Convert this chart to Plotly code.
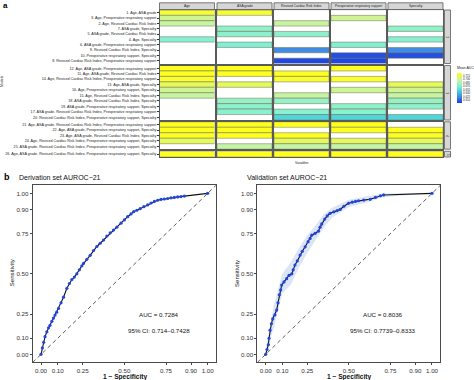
import plotly.graph_objects as go

W, H = 474, 380
FONT = "Liberation Sans, Arial, sans-serif"

# ---------------- data ----------------
variables = ["Age", "ASA grade", "Revised Cardiac Risk Index",
             "Preoperative respiratory support", "Specialty"]
group_labels = ["2", "3", "4", "5"]

models_2 = ["1. Age, ASA grade",
            "3. Age, Preoperative respiratory support",
            "2. Age, Revised Cardiac Risk Index",
            "7. ASA grade, Specialty",
            "5. ASA grade, Revised Cardiac Risk Index",
            "4. Age, Specialty",
            "6. ASA grade, Preoperative respiratory support",
            "9. Revised Cardiac Risk Index, Specialty",
            "10. Preoperative respiratory support, Specialty",
            "8. Revised Cardiac Risk Index, Preoperative respiratory support"]
auc_2 = [0.724, 0.703, 0.700, 0.678, 0.676, 0.674, 0.672, 0.628, 0.606, 0.603]

models_3 = ["12. Age, ASA grade, Preoperative respiratory support",
            "11. Age, ASA grade, Revised Cardiac Risk Index",
            "14. Age, Revised Cardiac Risk Index, Preoperative respiratory support",
            "13. Age, ASA grade, Specialty",
            "16. Age, Preoperative respiratory support, Specialty",
            "15. Age, Revised Cardiac Risk Index, Specialty",
            "18. ASA grade, Revised Cardiac Risk Index, Specialty",
            "19. ASA grade, Preoperative respiratory support, Specialty",
            "17. ASA grade, Revised Cardiac Risk Index, Preoperative respiratory support",
            "20. Revised Cardiac Risk Index, Preoperative respiratory support, Specialty"]
auc_3 = [0.730, 0.729, 0.727, 0.716, 0.703, 0.699, 0.680, 0.677, 0.675, 0.655]

models_4 = ["21. Age, ASA grade, Revised Cardiac Risk Index, Preoperative respiratory support",
            "22. Age, ASA grade, Preoperative respiratory support, Specialty",
            "23. Age, ASA grade, Revised Cardiac Risk Index, Specialty",
            "24. Age, Revised Cardiac Risk Index, Preoperative respiratory support, Specialty",
            "25. ASA grade, Revised Cardiac Risk Index, Preoperative respiratory support, Specialty"]
auc_4 = [0.731, 0.730, 0.729, 0.716, 0.698]

models_5 = ["26. Age, ASA grade, Revised Cardiac Risk Index, Preoperative respiratory support, Specialty"]
auc_5 = [0.732]

legend_ticks = [0.61, 0.625, 0.64, 0.655, 0.67, 0.685, 0.70, 0.715]

roc_ticks = [0, 0.1, 0.25, 0.5, 0.75, 0.9, 1.0]
roc_tick_text = ["0.00", "0.10", "0.25", "0.50", "0.75", "0.90", "1.00"]

der_fpr = [0, 0.008, 0.016, 0.024, 0.035, 0.045, 0.054, 0.065, 0.075, 0.084, 0.094,
           0.105, 0.12, 0.135, 0.155, 0.17, 0.185, 0.2, 0.215, 0.23, 0.245, 0.255,
           0.275, 0.295, 0.315, 0.335, 0.355, 0.375, 0.395, 0.415, 0.435, 0.455,
           0.48, 0.5, 0.52, 0.54, 0.556, 0.575, 0.595, 0.617, 0.64, 0.66, 0.68, 0.7,
           0.72, 0.74, 0.76, 0.78, 0.8, 0.82, 0.84, 0.86, 1.0]
der_tpr = [0, 0.04, 0.075, 0.11, 0.14, 0.165, 0.18, 0.205, 0.225, 0.244, 0.262,
           0.285, 0.32, 0.355, 0.41, 0.44, 0.465, 0.48, 0.50, 0.525, 0.55, 0.565,
           0.59, 0.615, 0.645, 0.67, 0.69, 0.71, 0.735, 0.755, 0.772, 0.79,
           0.815, 0.835, 0.855, 0.872, 0.886, 0.895, 0.905, 0.917, 0.928, 0.94, 0.95, 0.957,
           0.962, 0.965, 0.968, 0.972, 0.975, 0.978, 0.98, 0.983, 1.0]

val_fpr = [0, 0.008, 0.016, 0.02, 0.026, 0.034, 0.042, 0.055, 0.066, 0.074, 0.082,
           0.09, 0.096, 0.11, 0.126, 0.14, 0.157, 0.165, 0.176, 0.19, 0.207, 0.22,
           0.237, 0.255, 0.267, 0.277, 0.297, 0.317, 0.327, 0.337, 0.355, 0.37, 0.387,
           0.41, 0.43, 0.448, 0.47, 0.498, 0.52, 0.54, 0.558, 0.59, 0.628, 0.66, 0.69,
           0.709, 1.0]
val_tpr = [0, 0.03, 0.06, 0.1, 0.15, 0.19, 0.22, 0.245, 0.275, 0.32, 0.37,
           0.4, 0.43, 0.45, 0.47, 0.49, 0.50, 0.525, 0.555, 0.58, 0.617, 0.64,
           0.668, 0.70, 0.72, 0.74, 0.752, 0.765, 0.79, 0.81, 0.84, 0.86, 0.876,
           0.885, 0.893, 0.90, 0.92, 0.938, 0.945, 0.95, 0.954, 0.958, 0.963, 0.975, 0.985,
           0.99, 1.0]
val_band_fpr = [0, 0.05, 0.1, 0.15, 0.2, 0.25, 0.3, 0.35, 0.4, 0.5, 0.6, 0.7, 0.8, 1.0]
val_band_hi = [0.03, 0.31, 0.50, 0.57, 0.66, 0.74, 0.80, 0.87, 0.91, 0.96, 0.98, 0.997, 1.0, 1.0]
val_band_lo = [0, 0.17, 0.38, 0.43, 0.54, 0.63, 0.71, 0.79, 0.85, 0.915, 0.94, 0.975, 0.985, 1.0]

diag = [-0.05, 1.05]

der_title = "Derivation set AUROC\u221221"
val_title = "Validation set AUROC\u221221"
der_auc_text = ["AUC = 0.7284", "95% CI: 0.714\u20130.7428"]
val_auc_text = ["AUC = 0.8036", "95% CI: 0.7739\u20130.8333"]

# ---------------- geometry (pixels) ----------------
def px(x):
    return x / W

def py(y):
    return 1 - y / H

col_px = [(159.5, 214.5), (217, 272), (274, 329), (331, 386), (388, 443)]
grp_px = [(10, 63.5), (65.5, 120), (121.8, 149.2), (151.3, 157)]
header_px = (2.8, 9.6)
strip_px = (444.5, 450.5)
roc_x_px = [(32.7, 216.0), (257.4, 440.3)]
roc_y_px = (185.3, 362.4)

colorscale = [[0.0, "#1b3fe3"], [0.2, "#3f86e6"], [0.4, "#47d0dc"],
              [0.56, "#84f0d4"], [0.76, "#c6f4a4"], [1.0, "#ffff1e"]]

groups = [(models_2, auc_2), (models_3, auc_3), (models_4, auc_4), (models_5, auc_5)]


def note(text, x, y, size, xanchor="center", yanchor="middle", angle=0,
         xref="paper", yref="paper", color="#222"):
    return dict(text=text, x=x, y=y, xref=xref, yref=yref, showarrow=False,
                xanchor=xanchor, yanchor=yanchor, textangle=angle,
                font=dict(size=size, color=color, family=FONT))


fig = go.Figure()
layout = {}
shapes = []
annotations = []

k = 0
for g, (labels, aucs) in enumerate(groups):
    n = len(labels)
    members = [lab.split(". ", 1)[1].split(", ") for lab in labels]
    for c, var in enumerate(variables):
        k += 1
        s = "" if k == 1 else str(k)
        xs = [1 if var in m else None for m in members]
        fig.add_trace(go.Bar(
            orientation="h", x=xs, y=list(range(n)), base=0, width=1,
            marker=dict(color=aucs, coloraxis="coloraxis",
                        line=dict(color="#6d6d55", width=0.5)),
            xaxis="x" + s, yaxis="y" + s, showlegend=False, hoverinfo="skip"))
        x0, x1 = col_px[c]
        y0, y1 = grp_px[g]
        layout["xaxis" + s] = dict(domain=[px(x0), px(x1)], range=[0, 1], anchor="y" + s,
                                   showticklabels=False, showgrid=False, zeroline=False,
                                   showline=True, mirror=True, linecolor="#5a5a5a",
                                   linewidth=1, ticks="", fixedrange=True)
        ya = dict(domain=[py(y1), py(y0)], range=[n - 0.5, -0.5], anchor="x" + s,
                  showgrid=False, zeroline=False, showline=True, mirror=True,
                  linecolor="#5a5a5a", linewidth=1, fixedrange=True)
        if c == 0:
            ya.update(tickmode="array", tickvals=list(range(n)), ticktext=labels,
                      ticks="outside", ticklen=1.5, tickwidth=0.5, tickcolor="#333",
                      tickfont=dict(size=3.7, color="#222", family=FONT))
        else:
            ya.update(showticklabels=False, ticks="")
        layout["yaxis" + s] = ya

# header strips
for c, var in enumerate(variables):
    x0, x1 = col_px[c]
    shapes.append(dict(type="rect", xref="paper", yref="paper",
                       x0=px(x0), x1=px(x1), y0=py(header_px[1]), y1=py(header_px[0]),
                       fillcolor="#d6d6d6", line=dict(color="#5a5a5a", width=0.8)))
    annotations.append(note(var, px((x0 + x1) / 2), py(sum(header_px) / 2), 3.3))
# right strips
for g, lab in enumerate(group_labels):
    y0, y1 = grp_px[g]
    shapes.append(dict(type="rect", xref="paper", yref="paper",
                       x0=px(strip_px[0]), x1=px(strip_px[1]), y0=py(y1), y1=py(y0),
                       fillcolor="#d6d6d6", line=dict(color="#5a5a5a", width=0.8)))
    annotations.append(note(lab, px(sum(strip_px) / 2), py((y0 + y1) / 2), 3.5, angle=90))

annotations += [
    note("<b>a</b>", px(1), py(5), 8, xanchor="left", color="#000"),
    note("Models", px(2), py(81), 3.5, angle=-90),
    note("Variables", px(301.5), py(162.7), 3.3),
    note("<b>b</b>", px(2), py(177), 9, xanchor="left", color="#000"),
]

# ---------------- ROC panels ----------------
roc_sets = [(der_fpr, der_tpr, der_title, der_auc_text, None),
            (val_fpr, val_tpr, val_title, val_auc_text,
             (val_band_fpr, val_band_lo, val_band_hi))]
for i, (fx, ty, title, auc_txt, band) in enumerate(roc_sets):
    k += 1
    s = str(k)
    xa, ya = "x" + s, "y" + s
    if band is not None:
        bx, blo, bhi = band
        fig.add_trace(go.Scatter(x=bx, y=blo, mode="lines", line=dict(width=0),
                                 xaxis=xa, yaxis=ya, showlegend=False, hoverinfo="skip"))
        fig.add_trace(go.Scatter(x=bx, y=bhi, mode="lines", line=dict(width=0),
                                 fill="tonexty", fillcolor="rgba(190,208,240,0.55)",
                                 xaxis=xa, yaxis=ya, showlegend=False, hoverinfo="skip"))
    fig.add_trace(go.Scatter(x=diag, y=diag, mode="lines",
                             line=dict(color="#333", width=0.8, dash="4px,3px"),
                             xaxis=xa, yaxis=ya, showlegend=False, hoverinfo="skip"))
    fig.add_trace(go.Scatter(x=fx, y=ty, mode="lines+markers",
                             line=dict(color="#111", width=1.1),
                             marker=dict(color="#2446d8", size=3.2, line=dict(width=0)),
                             xaxis=xa, yaxis=ya, showlegend=False))
    x0, x1 = roc_x_px[i]
    axis_common = dict(range=[-0.05, 1.05], tickmode="array", tickvals=roc_ticks,
                       ticktext=roc_tick_text, ticks="outside", ticklen=2, tickwidth=0.8,
                       tickcolor="#444", tickfont=dict(size=6.2, color="#333", family=FONT),
                       showgrid=False, zeroline=False, showline=True, mirror=True,
                       linecolor="#4a4a4a", linewidth=1, fixedrange=True)
    layout["xaxis" + s] = dict(domain=[px(x0), px(x1)], anchor=ya, **axis_common)
    layout["yaxis" + s] = dict(domain=[py(roc_y_px[1]), py(roc_y_px[0])], anchor=xa,
                               **axis_common)
    annotations.append(note(title, px(x0 - 16 if i == 0 else x0 - 12.5), py(177.5), 7,
                            xanchor="left", color="#111"))
    annotations.append(note(auc_txt[0], 0.705, 0.25, 6.2, xref=xa, yref=ya, color="#111"))
    annotations.append(note(auc_txt[1], 0.705, 0.15, 6.2, xref=xa, yref=ya, color="#111"))
    annotations.append(note("Sensitivity", px(x0 - 20.5), py(273), 6, angle=-90,
                            color="#111"))
    annotations.append(note("<b>1 \u2212 Specificity</b>", px((x0 + x1) / 2 + 0.5),
                            py(376.5), 6.6, color="#111"))

fig.update_layout(
    width=W, height=H, margin=dict(l=0, r=0, t=0, b=0),
    paper_bgcolor="white", plot_bgcolor="white",
    font=dict(family=FONT, color="#222"),
    shapes=shapes, annotations=annotations, showlegend=False,
    coloraxis=dict(cmin=0.60, cmax=0.73, colorscale=colorscale,
                   colorbar=dict(x=px(457), xanchor="left", y=py(63.5), yanchor="top",
                                 len=39 / H, lenmode="fraction", thickness=4.7,
                                 thicknessmode="pixels", outlinewidth=0,
                                 title=dict(text="Mean AUC", side="top",
                                            font=dict(size=3.5, family=FONT)),
                                 tickmode="array", tickvals=legend_ticks,
                                 ticktext=[f"{v:.3f}" for v in legend_ticks],
                                 ticks="", tickfont=dict(size=2.8, family=FONT),
                                 xpad=0, ypad=0)),
    **layout)

fig.write_html("out.html", config={"displayModeBar": False},
               post_script="document.body.style.margin='0';document.body.style.overflow='hidden';")
